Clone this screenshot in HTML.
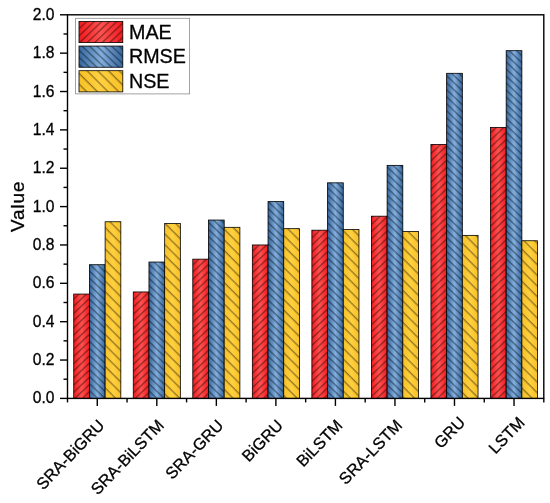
<!DOCTYPE html>
<html><head><meta charset="utf-8"><title>chart</title>
<style>
html,body{margin:0;padding:0;background:#fff;}
body{width:550px;height:503px;overflow:hidden;}
svg{display:block;}
text{font-family:"Liberation Sans",sans-serif;fill:#000;stroke:#000;stroke-width:0.3px;}
.t{font-size:15.6px;}
.l{font-size:19.7px;}
</style></head><body>
<svg width="550" height="503" viewBox="0 0 550 503">
<defs>
<linearGradient id="gr" x1="0" x2="1" y1="0" y2="0">
<stop offset="0" stop-color="#f21a1e"/><stop offset="0.5" stop-color="#ff5250"/><stop offset="1" stop-color="#f21a1e"/></linearGradient>
<linearGradient id="gb" x1="0" x2="1" y1="0" y2="0">
<stop offset="0" stop-color="#36669e"/><stop offset="0.5" stop-color="#84b0de"/><stop offset="1" stop-color="#36669e"/></linearGradient>
<linearGradient id="gy" x1="0" x2="1" y1="0" y2="0">
<stop offset="0" stop-color="#f8c126"/><stop offset="0.5" stop-color="#ffd040"/><stop offset="1" stop-color="#f8c126"/></linearGradient>
<pattern id="hr" width="5.2" height="5.2" patternUnits="userSpaceOnUse" patternTransform="rotate(-43.5)"><line x1="0" y1="2.5" x2="5.2" y2="2.5" stroke="#000" stroke-opacity="0.95" stroke-width="0.6"/></pattern>
<pattern id="hb" width="5.1" height="5.1" patternUnits="userSpaceOnUse" patternTransform="rotate(43.5)"><line x1="0" y1="2.5" x2="5.1" y2="2.5" stroke="#000" stroke-opacity="0.95" stroke-width="0.6"/></pattern>
<pattern id="hy" width="7.55" height="7.55" patternUnits="userSpaceOnUse" patternTransform="rotate(45)"><line x1="0" y1="3.6" x2="7.55" y2="3.6" stroke="#000" stroke-opacity="0.95" stroke-width="0.6"/></pattern>
</defs>
<rect width="550" height="503" fill="#fff"/>

<rect x="73.72" y="294.06" width="15.7" height="104.34" fill="url(#gr)"/>
<rect x="73.72" y="294.06" width="15.7" height="104.34" fill="url(#hr)" stroke="#000" stroke-width="0.8"/>
<rect x="89.42" y="264.72" width="15.7" height="133.68" fill="url(#gb)"/>
<rect x="89.42" y="264.72" width="15.7" height="133.68" fill="url(#hb)" stroke="#000" stroke-width="0.8"/>
<rect x="105.12" y="221.75" width="15.7" height="176.65" fill="url(#gy)"/>
<rect x="105.12" y="221.75" width="15.7" height="176.65" fill="url(#hy)" stroke="#000" stroke-width="0.8"/>
<rect x="133.26" y="291.95" width="15.7" height="106.45" fill="url(#gr)"/>
<rect x="133.26" y="291.95" width="15.7" height="106.45" fill="url(#hr)" stroke="#000" stroke-width="0.8"/>
<rect x="148.96" y="262.03" width="15.7" height="136.37" fill="url(#gb)"/>
<rect x="148.96" y="262.03" width="15.7" height="136.37" fill="url(#hb)" stroke="#000" stroke-width="0.8"/>
<rect x="164.66" y="223.48" width="15.7" height="174.92" fill="url(#gy)"/>
<rect x="164.66" y="223.48" width="15.7" height="174.92" fill="url(#hy)" stroke="#000" stroke-width="0.8"/>
<rect x="192.79" y="259.15" width="15.7" height="139.25" fill="url(#gr)"/>
<rect x="192.79" y="259.15" width="15.7" height="139.25" fill="url(#hr)" stroke="#000" stroke-width="0.8"/>
<rect x="208.49" y="220.03" width="15.7" height="178.37" fill="url(#gb)"/>
<rect x="208.49" y="220.03" width="15.7" height="178.37" fill="url(#hb)" stroke="#000" stroke-width="0.8"/>
<rect x="224.19" y="227.31" width="15.7" height="171.09" fill="url(#gy)"/>
<rect x="224.19" y="227.31" width="15.7" height="171.09" fill="url(#hy)" stroke="#000" stroke-width="0.8"/>
<rect x="252.33" y="244.96" width="15.7" height="153.44" fill="url(#gr)"/>
<rect x="252.33" y="244.96" width="15.7" height="153.44" fill="url(#hr)" stroke="#000" stroke-width="0.8"/>
<rect x="268.03" y="201.61" width="15.7" height="196.79" fill="url(#gb)"/>
<rect x="268.03" y="201.61" width="15.7" height="196.79" fill="url(#hb)" stroke="#000" stroke-width="0.8"/>
<rect x="283.73" y="228.66" width="15.7" height="169.74" fill="url(#gy)"/>
<rect x="283.73" y="228.66" width="15.7" height="169.74" fill="url(#hy)" stroke="#000" stroke-width="0.8"/>
<rect x="311.87" y="230.19" width="15.7" height="168.21" fill="url(#gr)"/>
<rect x="311.87" y="230.19" width="15.7" height="168.21" fill="url(#hr)" stroke="#000" stroke-width="0.8"/>
<rect x="327.57" y="182.82" width="15.7" height="215.58" fill="url(#gb)"/>
<rect x="327.57" y="182.82" width="15.7" height="215.58" fill="url(#hb)" stroke="#000" stroke-width="0.8"/>
<rect x="343.27" y="229.42" width="15.7" height="168.98" fill="url(#gy)"/>
<rect x="343.27" y="229.42" width="15.7" height="168.98" fill="url(#hy)" stroke="#000" stroke-width="0.8"/>
<rect x="371.41" y="216.19" width="15.7" height="182.21" fill="url(#gr)"/>
<rect x="371.41" y="216.19" width="15.7" height="182.21" fill="url(#hr)" stroke="#000" stroke-width="0.8"/>
<rect x="387.11" y="165.36" width="15.7" height="233.04" fill="url(#gb)"/>
<rect x="387.11" y="165.36" width="15.7" height="233.04" fill="url(#hb)" stroke="#000" stroke-width="0.8"/>
<rect x="402.81" y="231.53" width="15.7" height="166.87" fill="url(#gy)"/>
<rect x="402.81" y="231.53" width="15.7" height="166.87" fill="url(#hy)" stroke="#000" stroke-width="0.8"/>
<rect x="430.94" y="144.46" width="15.7" height="253.94" fill="url(#gr)"/>
<rect x="430.94" y="144.46" width="15.7" height="253.94" fill="url(#hr)" stroke="#000" stroke-width="0.8"/>
<rect x="446.64" y="73.30" width="15.7" height="325.10" fill="url(#gb)"/>
<rect x="446.64" y="73.30" width="15.7" height="325.10" fill="url(#hb)" stroke="#000" stroke-width="0.8"/>
<rect x="462.34" y="235.37" width="15.7" height="163.03" fill="url(#gy)"/>
<rect x="462.34" y="235.37" width="15.7" height="163.03" fill="url(#hy)" stroke="#000" stroke-width="0.8"/>
<rect x="490.48" y="127.39" width="15.7" height="271.01" fill="url(#gr)"/>
<rect x="490.48" y="127.39" width="15.7" height="271.01" fill="url(#hr)" stroke="#000" stroke-width="0.8"/>
<rect x="506.18" y="50.67" width="15.7" height="347.73" fill="url(#gb)"/>
<rect x="506.18" y="50.67" width="15.7" height="347.73" fill="url(#hb)" stroke="#000" stroke-width="0.8"/>
<rect x="521.88" y="240.74" width="15.7" height="157.66" fill="url(#gy)"/>
<rect x="521.88" y="240.74" width="15.7" height="157.66" fill="url(#hy)" stroke="#000" stroke-width="0.8"/>
<rect x="67.5" y="14.8" width="476.29999999999995" height="383.59999999999997" fill="none" stroke="#000" stroke-width="1.4"/>
<line x1="60.0" y1="398.40" x2="67.5" y2="398.40" stroke="#000" stroke-width="1.4"/>
<text class="t" x="54.5" y="403.40" text-anchor="end">0.0</text>
<line x1="63.5" y1="379.22" x2="67.5" y2="379.22" stroke="#000" stroke-width="1.4"/>
<line x1="60.0" y1="360.04" x2="67.5" y2="360.04" stroke="#000" stroke-width="1.4"/>
<text class="t" x="54.5" y="365.04" text-anchor="end">0.2</text>
<line x1="63.5" y1="340.86" x2="67.5" y2="340.86" stroke="#000" stroke-width="1.4"/>
<line x1="60.0" y1="321.68" x2="67.5" y2="321.68" stroke="#000" stroke-width="1.4"/>
<text class="t" x="54.5" y="326.68" text-anchor="end">0.4</text>
<line x1="63.5" y1="302.50" x2="67.5" y2="302.50" stroke="#000" stroke-width="1.4"/>
<line x1="60.0" y1="283.32" x2="67.5" y2="283.32" stroke="#000" stroke-width="1.4"/>
<text class="t" x="54.5" y="288.32" text-anchor="end">0.6</text>
<line x1="63.5" y1="264.14" x2="67.5" y2="264.14" stroke="#000" stroke-width="1.4"/>
<line x1="60.0" y1="244.96" x2="67.5" y2="244.96" stroke="#000" stroke-width="1.4"/>
<text class="t" x="54.5" y="249.96" text-anchor="end">0.8</text>
<line x1="63.5" y1="225.78" x2="67.5" y2="225.78" stroke="#000" stroke-width="1.4"/>
<line x1="60.0" y1="206.60" x2="67.5" y2="206.60" stroke="#000" stroke-width="1.4"/>
<text class="t" x="54.5" y="211.60" text-anchor="end">1.0</text>
<line x1="63.5" y1="187.42" x2="67.5" y2="187.42" stroke="#000" stroke-width="1.4"/>
<line x1="60.0" y1="168.24" x2="67.5" y2="168.24" stroke="#000" stroke-width="1.4"/>
<text class="t" x="54.5" y="173.24" text-anchor="end">1.2</text>
<line x1="63.5" y1="149.06" x2="67.5" y2="149.06" stroke="#000" stroke-width="1.4"/>
<line x1="60.0" y1="129.88" x2="67.5" y2="129.88" stroke="#000" stroke-width="1.4"/>
<text class="t" x="54.5" y="134.88" text-anchor="end">1.4</text>
<line x1="63.5" y1="110.70" x2="67.5" y2="110.70" stroke="#000" stroke-width="1.4"/>
<line x1="60.0" y1="91.52" x2="67.5" y2="91.52" stroke="#000" stroke-width="1.4"/>
<text class="t" x="54.5" y="96.52" text-anchor="end">1.6</text>
<line x1="63.5" y1="72.34" x2="67.5" y2="72.34" stroke="#000" stroke-width="1.4"/>
<line x1="60.0" y1="53.16" x2="67.5" y2="53.16" stroke="#000" stroke-width="1.4"/>
<text class="t" x="54.5" y="58.16" text-anchor="end">1.8</text>
<line x1="63.5" y1="33.98" x2="67.5" y2="33.98" stroke="#000" stroke-width="1.4"/>
<line x1="60.0" y1="14.80" x2="67.5" y2="14.80" stroke="#000" stroke-width="1.4"/>
<text class="t" x="54.5" y="19.80" text-anchor="end">2.0</text>
<line x1="97.27" y1="398.4" x2="97.27" y2="405.9" stroke="#000" stroke-width="1.4"/>
<line x1="67.50" y1="398.4" x2="67.50" y2="402.4" stroke="#000" stroke-width="1.4"/>
<text class="t" text-anchor="end" style="font-size:16.3px" transform="translate(105.37,426.20) rotate(-46)">SRA-BiGRU</text>
<line x1="156.81" y1="398.4" x2="156.81" y2="405.9" stroke="#000" stroke-width="1.4"/>
<line x1="127.04" y1="398.4" x2="127.04" y2="402.4" stroke="#000" stroke-width="1.4"/>
<text class="t" text-anchor="end" style="font-size:16.3px" transform="translate(164.91,426.20) rotate(-46)">SRA-BiLSTM</text>
<line x1="216.34" y1="398.4" x2="216.34" y2="405.9" stroke="#000" stroke-width="1.4"/>
<line x1="186.57" y1="398.4" x2="186.57" y2="402.4" stroke="#000" stroke-width="1.4"/>
<text class="t" text-anchor="end" style="font-size:16.3px" transform="translate(224.44,426.20) rotate(-46)">SRA-GRU</text>
<line x1="275.88" y1="398.4" x2="275.88" y2="405.9" stroke="#000" stroke-width="1.4"/>
<line x1="246.11" y1="398.4" x2="246.11" y2="402.4" stroke="#000" stroke-width="1.4"/>
<text class="t" text-anchor="end" style="font-size:16.3px" transform="translate(283.98,426.20) rotate(-46)">BiGRU</text>
<line x1="335.42" y1="398.4" x2="335.42" y2="405.9" stroke="#000" stroke-width="1.4"/>
<line x1="305.65" y1="398.4" x2="305.65" y2="402.4" stroke="#000" stroke-width="1.4"/>
<text class="t" text-anchor="end" style="font-size:16.3px" transform="translate(343.52,426.20) rotate(-46)">BiLSTM</text>
<line x1="394.96" y1="398.4" x2="394.96" y2="405.9" stroke="#000" stroke-width="1.4"/>
<line x1="365.19" y1="398.4" x2="365.19" y2="402.4" stroke="#000" stroke-width="1.4"/>
<text class="t" text-anchor="end" style="font-size:16.3px" transform="translate(403.06,426.20) rotate(-46)">SRA-LSTM</text>
<line x1="454.49" y1="398.4" x2="454.49" y2="405.9" stroke="#000" stroke-width="1.4"/>
<line x1="424.72" y1="398.4" x2="424.72" y2="402.4" stroke="#000" stroke-width="1.4"/>
<text class="t" text-anchor="end" style="font-size:16.3px" transform="translate(466.09,423.40) rotate(-46)">GRU</text>
<line x1="514.03" y1="398.4" x2="514.03" y2="405.9" stroke="#000" stroke-width="1.4"/>
<line x1="484.26" y1="398.4" x2="484.26" y2="402.4" stroke="#000" stroke-width="1.4"/>
<text class="t" text-anchor="end" style="font-size:16.3px" transform="translate(525.63,423.40) rotate(-46)">LSTM</text>
<line x1="543.8" y1="398.4" x2="543.8" y2="402.4" stroke="#000" stroke-width="1.4"/>
<text class="l" text-anchor="middle" transform="translate(23.5,206.4) rotate(-90)" style="font-size:18.9px;letter-spacing:0.9px">Value</text>
<rect x="75.6" y="18.3" width="114" height="75.6" fill="#fff" stroke="#8c8c8c" stroke-width="0.8"/>
<rect x="79.0" y="21.40" width="43.8" height="21.2" fill="url(#gr)"/>
<rect x="79.0" y="21.40" width="43.8" height="21.2" fill="url(#hr)" stroke="#000" stroke-width="0.8"/>
<text class="l" x="129.0" y="38.60">MAE</text>
<rect x="79.0" y="46.05" width="43.8" height="21.2" fill="url(#gb)"/>
<rect x="79.0" y="46.05" width="43.8" height="21.2" fill="url(#hb)" stroke="#000" stroke-width="0.8"/>
<text class="l" x="129.0" y="63.25">RMSE</text>
<rect x="79.0" y="70.70" width="43.8" height="21.2" fill="url(#gy)"/>
<rect x="79.0" y="70.70" width="43.8" height="21.2" fill="url(#hy)" stroke="#000" stroke-width="0.8"/>
<text class="l" x="129.0" y="87.90">NSE</text>
</svg></body></html>
